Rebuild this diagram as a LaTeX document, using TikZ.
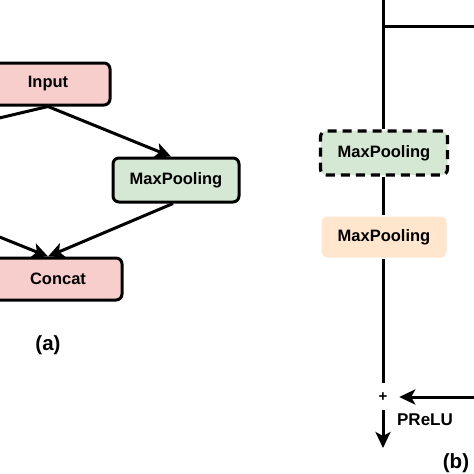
\documentclass[tikz,border=0pt]{standalone}
\usepackage{fontspec}
\setmainfont{Liberation Sans}
\usetikzlibrary{arrows.meta,calc}
\definecolor{pinkfill}{HTML}{F8CECC}
\definecolor{greenfill}{HTML}{D5E8D4}
\definecolor{orangefill}{HTML}{FFE6CC}
\tikzset{
  box/.style={rounded corners=6pt, line width=3pt, draw=black, minimum height=42pt,
    font=\fontsize{16.5}{19}\selectfont\bfseries, inner sep=0pt},
  conn/.style={line width=3pt},
  arr/.style={line width=3pt, -{Stealth[length=16pt,width=15pt,inset=4pt]}},
  lbl/.style={font=\fontsize{20.5}{24}\selectfont\bfseries, inner sep=0pt},
}
\begin{document}
\begin{tikzpicture}[x=1pt,y=-1pt]
\useasboundingbox (0,0) rectangle (474,474);
\clip (0,0) rectangle (474,474);
\fill[white] (0,0) rectangle (474,474);
% (a)
\node[box, fill=pinkfill, minimum width=124pt] (input) at (48,84) {Input};
\node[box, fill=greenfill, minimum width=126pt, minimum height=44pt] (mp1) at (176,180) {MaxPooling};
\node[box, fill=pinkfill, minimum width=136pt] (concat) at (54,279) {\hspace*{8pt}Concat};
\coordinate (l1) at (-60,132);
\coordinate (l2) at (-60,213);
\draw[conn] (input.south) -- (l1);
\draw[arr] (input.south) -- ($(mp1.north)+(-5,0)$);
\draw[arr] ($(mp1.south)+(-3,0)$) -- ($(concat.north)+(-6,0)$);
\draw[arr] (l2) -- ($(concat.north)+(-6,0)$);
\node[lbl] (la) at (48,345) {(a)};
% (b)
\coordinate (top) at (383,-10);
\coordinate (branch) at (383,26);
\coordinate (rightend) at (490,26);
\node[box, fill=greenfill, dash pattern=on 9pt off 6pt, line width=3.2pt, minimum width=127pt, minimum height=44pt] (mp2) at (384,153) {MaxPooling};
\node[box, fill=orangefill, draw=none, minimum width=125pt, minimum height=41pt] (mp3) at (384,237) {MaxPooling};
\node[font=\fontsize{15}{16}\selectfont\bfseries, inner sep=0pt, minimum size=20pt] (plus) at (383,397) {+};
\coordinate (rin) at (490,397);
\coordinate (down) at (383,448);
\draw[conn] (top) -- (mp2.north -| top);
\draw[conn] (branch) -- (rightend);
\draw[conn] (mp2.south -| top) -- (mp3.north -| top);
\draw[conn] (mp3.south -| top) -- ($(plus.north)+(0,-4)$);
\draw[arr] (rin) -- ($(plus.east)+(6,0)$);
\draw[arr] ($(plus.south)+(0,3)$) -- (down);
\node[font=\fontsize{17}{20}\selectfont\bfseries, inner sep=0pt] (prelu) at (425,420) {PReLU};
\node[lbl] (lb) at (456,463) {(b)};
\end{tikzpicture}
\end{document}
